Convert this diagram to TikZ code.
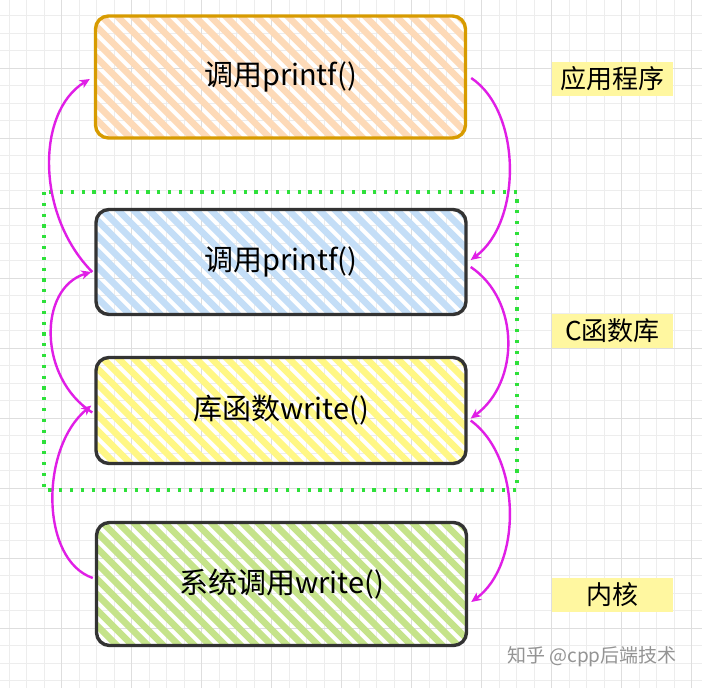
\documentclass[tikz,border=0pt]{standalone}
\usepackage{fontspec}
\newfontfamily\cjk{Noto Sans CJK SC}
\usetikzlibrary{calc,arrows.meta}
\definecolor{gminor}{HTML}{EDEDED}
\definecolor{gmajor}{HTML}{DEDEDE}
\definecolor{orangeline}{HTML}{D79B00}
\definecolor{orangefill}{HTML}{FDDAB8}
\definecolor{bluefill}{HTML}{C4DEF7}
\definecolor{yellowfill}{HTML}{FFF785}
\definecolor{greenfill}{HTML}{C5E38A}
\definecolor{darkline}{HTML}{333333}
\definecolor{mag}{HTML}{E01EE6}
\definecolor{dotgreen}{HTML}{2EE03A}
\definecolor{labelbg}{HTML}{FFF7A0}
\begin{document}
\begin{tikzpicture}[x=1pt,y=-1pt,
  hbox/.style 2 args={draw=#1, line width=3.4pt, rounded corners=13pt,
    minimum width=370pt, inner sep=0pt,
    font=\cjk\fontsize{29}{34}\selectfont,
    path picture={
      \foreach \k in {-12,...,34}
        \draw[line width=6.6pt,#2,line cap=round]
          ($(path picture bounding box.north west)+(\k*15.5,-6)$) -- ++(140,140);
    }},
  lab/.style={fill=labelbg, minimum width=121pt, minimum height=34pt, inner sep=0pt,
    font=\cjk\fontsize{26}{30}\selectfont},
  arr/.style={draw=mag, line width=2.4pt, -{Stealth[length=10pt,width=9pt,inset=3pt]}}
]
\useasboundingbox (0,0) rectangle (702,688);
\fill[white] (0,0) rectangle (702,688);
% grid
\foreach \i in {0,...,40} \draw[gminor, line width=0.8pt] (9.2+\i*17.5,0) -- (9.2+\i*17.5,688);
\foreach \i in {0,...,39} \draw[gminor, line width=0.8pt] (0,15.5+\i*17.5) -- (702,15.5+\i*17.5);
\foreach \i in {1,...,10} \draw[gmajor, line width=0.9pt] (-8.3+\i*70,0) -- (-8.3+\i*70,688);
\foreach \i in {0,...,9} \draw[gmajor, line width=0.9pt] (0,68+\i*70) -- (702,68+\i*70);

% dotted group
\draw[dotgreen, line width=3.2pt, dash pattern=on 3.2pt off 7.6pt] (44,192) rectangle (517,490);

% boxes
\node[hbox={orangeline}{orangefill}, minimum height=122pt] (A) at (280.5,77) {调用printf()};
\node[hbox={darkline}{bluefill}, minimum height=105pt] (B) at (281,262) {调用printf()};
\node[hbox={darkline}{yellowfill}, minimum height=106pt] (C) at (281,410.5) {库函数write()};
\node[hbox={darkline}{greenfill}, minimum height=123pt] (D) at (281.5,584) {系统调用write()};

% labels
\node[lab] (L1) at (612.5,78.5) {应用程序};
\node[lab] (L2) at (612.5,331) {C函数库};
\node[lab] (L3) at (612.5,595) {内核};

% watermark
\node[font=\cjk\fontsize{19}{22}\selectfont, text=black!42] (W) at (592,657) {知乎 @cpp后端技术};

% left arrows (upward)
\draw[arr] ($(B.west)+(-2,10)$) .. controls (36,215) and (36,112) .. ($(A.west)+(-4,2)$);
\draw[arr] ($(C.west)+(-2,2)$) .. controls (38,378) and (38,288) .. ($(B.west)+(-3,10)$);
\draw[arr] ($(D.west)+(-2,-6)$) .. controls (40,560) and (40,448) .. ($(C.west)+(-3,-5)$);

% right arrows (downward)
\draw[arr] ($(A.east)+(4,1)$) .. controls (522,112) and (522,222) .. ($(B.east)+(3,-2)$);
\draw[arr] ($(B.east)+(3,5)$) .. controls (520,300) and (520,382) .. ($(C.east)+(3,8)$);
\draw[arr] ($(C.east)+(3,10)$) .. controls (522,458) and (522,565) .. ($(D.east)+(3,18)$);
\end{tikzpicture}
\end{document}
